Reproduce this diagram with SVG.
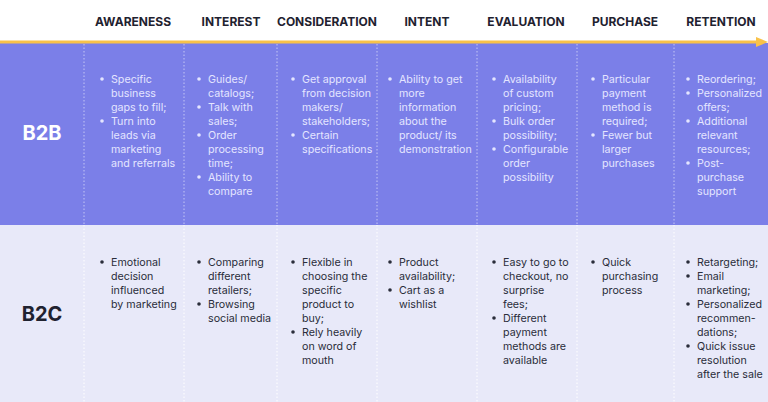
<svg xmlns="http://www.w3.org/2000/svg" width="768" height="402" viewBox="0 0 768 402">
<style>
.h{font-family:Inter,"Liberation Sans",sans-serif;font-weight:700;font-size:12px;fill:#1f2230;text-anchor:middle}
.t{font-family:Inter,"Liberation Sans",sans-serif;font-size:10.7px}
.a .t{fill:#e4e5ff}.b .t{fill:#2a2d3a}
.a circle{fill:#e4e5ff}.b circle{fill:#2a2d3a}
.lab{font-family:Inter,"Liberation Sans",sans-serif;font-weight:700;font-size:20px;text-anchor:middle}
.div{stroke-dasharray:1.5 2;stroke-width:1}
</style>
<rect width="768" height="402" fill="#fff"/>
<rect id="b2b-band" x="0" y="43" width="768" height="182" fill="#7b7fe8"/>
<rect id="b2c-band" x="0" y="225" width="768" height="177" fill="#e8e9f9"/>
<g id="connectors">
<line x1="0" y1="42" x2="758" y2="42" stroke="#f9c249" stroke-width="3"/>
<polygon points="756,37 768,42 756,47" fill="#f9c249"/>
<g class="div" stroke="#c5c7f5"><line x1="84" y1="44" x2="84" y2="225"/><line x1="184" y1="44" x2="184" y2="225"/><line x1="277" y1="44" x2="277" y2="225"/><line x1="377" y1="44" x2="377" y2="225"/><line x1="477" y1="44" x2="477" y2="225"/><line x1="577" y1="44" x2="577" y2="225"/><line x1="674" y1="44" x2="674" y2="225"/></g>
<g class="div" stroke="#ffffff"><line x1="84" y1="225" x2="84" y2="402"/><line x1="184" y1="225" x2="184" y2="402"/><line x1="277" y1="225" x2="277" y2="402"/><line x1="377" y1="225" x2="377" y2="402"/><line x1="477" y1="225" x2="477" y2="402"/><line x1="577" y1="225" x2="577" y2="402"/><line x1="674" y1="225" x2="674" y2="402"/></g>
</g>
<g id="headers">
<text class="h" x="133" y="26">AWARENESS</text><text class="h" x="231" y="26">INTEREST</text><text class="h" x="327" y="26">CONSIDERATION</text><text class="h" x="427" y="26">INTENT</text><text class="h" x="526" y="26">EVALUATION</text><text class="h" x="625" y="26">PURCHASE</text><text class="h" x="721" y="26">RETENTION</text>
</g>
<g id="label-b2b"><text class="lab" x="42" y="140" fill="#fff">B2B</text></g>
<g id="label-b2c"><text class="lab" x="42" y="321" fill="#1f2230">B2C</text></g>
<g id="b2b" class="a">
<circle cx="102" cy="79" r="1.8"/><circle cx="102" cy="121" r="1.8"/>
<text class="t" x="111" y="83"><tspan x="111">Specific</tspan><tspan x="111" dy="14">business</tspan><tspan x="111" dy="14">gaps to fill;</tspan><tspan x="111" dy="14">Turn into</tspan><tspan x="111" dy="14">leads via</tspan><tspan x="111" dy="14">marketing</tspan><tspan x="111" dy="14">and referrals</tspan></text>
<circle cx="199" cy="79" r="1.8"/><circle cx="199" cy="107" r="1.8"/><circle cx="199" cy="135" r="1.8"/><circle cx="199" cy="177" r="1.8"/>
<text class="t" x="208" y="83"><tspan x="208">Guides/</tspan><tspan x="208" dy="14">catalogs;</tspan><tspan x="208" dy="14">Talk with</tspan><tspan x="208" dy="14">sales;</tspan><tspan x="208" dy="14">Order</tspan><tspan x="208" dy="14">processing</tspan><tspan x="208" dy="14">time;</tspan><tspan x="208" dy="14">Ability to</tspan><tspan x="208" dy="14">compare</tspan></text>
<circle cx="293" cy="79" r="1.8"/><circle cx="293" cy="135" r="1.8"/>
<text class="t" x="302" y="83"><tspan x="302">Get approval</tspan><tspan x="302" dy="14">from decision</tspan><tspan x="302" dy="14">makers/</tspan><tspan x="302" dy="14">stakeholders;</tspan><tspan x="302" dy="14">Certain</tspan><tspan x="302" dy="14">specifications</tspan></text>
<circle cx="390" cy="79" r="1.8"/>
<text class="t" x="399" y="83"><tspan x="399">Ability to get</tspan><tspan x="399" dy="14">more</tspan><tspan x="399" dy="14">information</tspan><tspan x="399" dy="14">about the</tspan><tspan x="399" dy="14">product/ its</tspan><tspan x="399" dy="14">demonstration</tspan></text>
<circle cx="494" cy="79" r="1.8"/><circle cx="494" cy="121" r="1.8"/><circle cx="494" cy="149" r="1.8"/>
<text class="t" x="503" y="83"><tspan x="503">Availability</tspan><tspan x="503" dy="14">of custom</tspan><tspan x="503" dy="14">pricing;</tspan><tspan x="503" dy="14">Bulk order</tspan><tspan x="503" dy="14">possibility;</tspan><tspan x="503" dy="14">Configurable</tspan><tspan x="503" dy="14">order</tspan><tspan x="503" dy="14">possibility</tspan></text>
<circle cx="593" cy="79" r="1.8"/><circle cx="593" cy="135" r="1.8"/>
<text class="t" x="602" y="83"><tspan x="602">Particular</tspan><tspan x="602" dy="14">payment</tspan><tspan x="602" dy="14">method is</tspan><tspan x="602" dy="14">required;</tspan><tspan x="602" dy="14">Fewer but</tspan><tspan x="602" dy="14">larger</tspan><tspan x="602" dy="14">purchases</tspan></text>
<circle cx="688" cy="79" r="1.8"/><circle cx="688" cy="93" r="1.8"/><circle cx="688" cy="121" r="1.8"/><circle cx="688" cy="163" r="1.8"/>
<text class="t" x="697" y="83"><tspan x="697">Reordering;</tspan><tspan x="697" dy="14">Personalized</tspan><tspan x="697" dy="14">offers;</tspan><tspan x="697" dy="14">Additional</tspan><tspan x="697" dy="14">relevant</tspan><tspan x="697" dy="14">resources;</tspan><tspan x="697" dy="14">Post-</tspan><tspan x="697" dy="14">purchase</tspan><tspan x="697" dy="14">support</tspan></text>
</g>
<g id="b2c" class="b">
<circle cx="102" cy="262" r="1.8"/>
<text class="t" x="111" y="266"><tspan x="111">Emotional</tspan><tspan x="111" dy="14">decision</tspan><tspan x="111" dy="14">influenced</tspan><tspan x="111" dy="14">by marketing</tspan></text>
<circle cx="199" cy="262" r="1.8"/><circle cx="199" cy="304" r="1.8"/>
<text class="t" x="208" y="266"><tspan x="208">Comparing</tspan><tspan x="208" dy="14">different</tspan><tspan x="208" dy="14">retailers;</tspan><tspan x="208" dy="14">Browsing</tspan><tspan x="208" dy="14">social media</tspan></text>
<circle cx="293" cy="262" r="1.8"/><circle cx="293" cy="332" r="1.8"/>
<text class="t" x="302" y="266"><tspan x="302">Flexible in</tspan><tspan x="302" dy="14">choosing the</tspan><tspan x="302" dy="14">specific</tspan><tspan x="302" dy="14">product to</tspan><tspan x="302" dy="14">buy;</tspan><tspan x="302" dy="14">Rely heavily</tspan><tspan x="302" dy="14">on word of</tspan><tspan x="302" dy="14">mouth</tspan></text>
<circle cx="390" cy="262" r="1.8"/><circle cx="390" cy="290" r="1.8"/>
<text class="t" x="399" y="266"><tspan x="399">Product</tspan><tspan x="399" dy="14">availability;</tspan><tspan x="399" dy="14">Cart as a</tspan><tspan x="399" dy="14">wishlist</tspan></text>
<circle cx="494" cy="262" r="1.8"/><circle cx="494" cy="318" r="1.8"/>
<text class="t" x="503" y="266"><tspan x="503">Easy to go to</tspan><tspan x="503" dy="14">checkout, no</tspan><tspan x="503" dy="14">surprise</tspan><tspan x="503" dy="14">fees;</tspan><tspan x="503" dy="14">Different</tspan><tspan x="503" dy="14">payment</tspan><tspan x="503" dy="14">methods are</tspan><tspan x="503" dy="14">available</tspan></text>
<circle cx="593" cy="262" r="1.8"/>
<text class="t" x="602" y="266"><tspan x="602">Quick</tspan><tspan x="602" dy="14">purchasing</tspan><tspan x="602" dy="14">process</tspan></text>
<circle cx="688" cy="262" r="1.8"/><circle cx="688" cy="276" r="1.8"/><circle cx="688" cy="304" r="1.8"/><circle cx="688" cy="346" r="1.8"/>
<text class="t" x="697" y="266"><tspan x="697">Retargeting;</tspan><tspan x="697" dy="14">Email</tspan><tspan x="697" dy="14">marketing;</tspan><tspan x="697" dy="14">Personalized</tspan><tspan x="697" dy="14">recommen-</tspan><tspan x="697" dy="14">dations;</tspan><tspan x="697" dy="14">Quick issue</tspan><tspan x="697" dy="14">resolution</tspan><tspan x="697" dy="14">after the sale</tspan></text>
</g>
</svg>
